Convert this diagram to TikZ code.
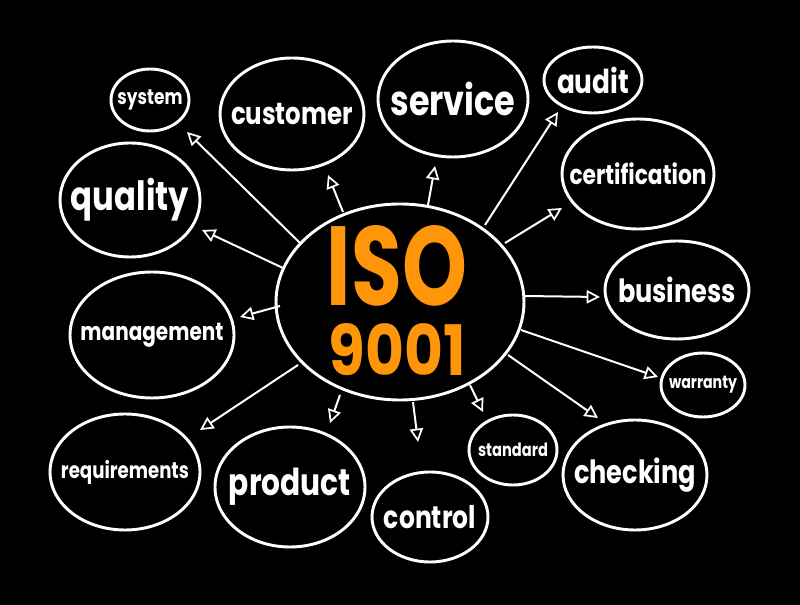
\documentclass[tikz,border=0pt]{standalone}
\usepackage{fontspec}
\setmainfont{Poppins}
\usepackage{graphicx}
\usetikzlibrary{shapes.geometric,arrows.meta}
\newdimen\pxu \pxu=0.75pt
\definecolor{isoorange}{RGB}{255,150,10}
\tikzset{
  bub/.style={ellipse, draw=white, line width=2.2pt, inner sep=0pt},
  lbl/.style={text=white, inner sep=0pt, font=\bfseries},
  isolbl/.style={text=isoorange, inner sep=0pt, font=\bfseries, align=center},
  arr/.style={draw=white, line width=1.5pt, -{Triangle[open, length=10pt, width=10pt, line width=1.3pt]}},
}
\newcommand\bubble[7]{%
  \node[bub, minimum width=#4*1.5pt, minimum height=#5*1.5pt] (#1) at (#2,#3) {};
  \node[lbl] at (#1) {\scalebox{1}[1.25]{\resizebox{#6\pxu}{!}{#7}}};}
\begin{document}
\begin{tikzpicture}[x=0.75pt, y=-0.75pt]
\fill[black] (0,0) rectangle (800,605);
\useasboundingbox (0,0) rectangle (800,605);
% centre
\node[bub, minimum width=248*0.75pt, minimum height=196*0.75pt] (c) at (400,302) {};
\node[isolbl] (iso) at (397,300.5) {\resizebox{140\pxu}{80\pxu}{ISO}\\[16\pxu]\resizebox{137\pxu}{52\pxu}{9001}};
% bubbles
\bubble{sys}{150}{100}{39}{31}{65}{system}
\bubble{cus}{292}{114}{72}{56}{122}{customer}
\bubble{ser}{453}{99}{75}{58}{125}{service}
\bubble{aud}{593}{80}{49}{33}{72}{audit}
\bubble{cer}{638}{174}{76}{55}{137}{certification}
\bubble{qua}{130}{200}{70}{57}{118}{quality}
\bubble{bus}{677}{290}{72}{49}{118}{business}
\bubble{man}{152}{335}{82}{63}{143}{management}
\bubble{war}{703}{385}{42}{32}{68}{warranty}
\bubble{req}{125}{472}{75}{58}{128}{requirements}
\bubble{pro}{290}{487}{75}{60}{122}{product}
\bubble{con}{430}{517}{58}{45}{92}{control}
\bubble{sta}{513}{450}{44}{35}{70}{standard}
\bubble{che}{635}{475}{72}{55}{122}{checking}
% arrow ends
\coordinate (s1) at (300,243);  \coordinate (t1) at (187,132);
\coordinate (s2) at (343,212);  \coordinate (t2) at (328,175);
\coordinate (s3) at (428,205);  \coordinate (t3) at (435,166);
\coordinate (s4) at (485,225);  \coordinate (t4) at (558,112);
\coordinate (s5) at (505,243);  \coordinate (t5) at (562,208);
\coordinate (s6) at (283,268);  \coordinate (t6) at (202,230);
\coordinate (s7) at (524,296);  \coordinate (t7) at (600,297);
\coordinate (s8) at (280,306);  \coordinate (t8) at (240,317);
\coordinate (s9) at (521,330);  \coordinate (t9) at (658,377);
\coordinate (s10) at (298,365); \coordinate (t10) at (200,430);
\coordinate (s11) at (340,395); \coordinate (t11) at (330,423);
\coordinate (s12) at (413,402); \coordinate (t12) at (418,442);
\coordinate (s13) at (470,385); \coordinate (t13) at (483,412);
\coordinate (s14) at (508,355); \coordinate (t14) at (598,418);
\foreach \i in {1,...,14} {\draw[arr] (s\i) -- (t\i);}
\end{tikzpicture}
\end{document}
